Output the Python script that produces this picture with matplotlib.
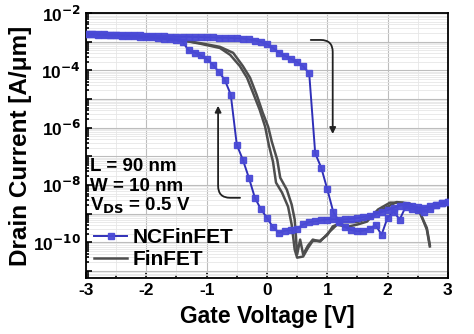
"""Id-Vg hysteresis: NCFinFET vs FinFET."""

import matplotlib

matplotlib.use("Agg")
import matplotlib.pyplot as plt
import numpy as np
from matplotlib.ticker import FixedLocator, FuncFormatter, LogLocator, MultipleLocator

plt.rcParams["font.family"] = ["Liberation Sans", "DejaVu Sans"]
plt.rcParams["font.weight"] = "bold"
plt.rcParams["mathtext.default"] = "bf"

# NCFinFET, sampled every 0.1 V from -3 to 3 (log10 of current)
nc_vg = [round(-3.0 + 0.1 * i, 1) for i in range(61)]
nc_fwd_log = [
    -2.73, -2.73, -2.74, -2.74, -2.75, -2.75, -2.76, -2.77, -2.78, -2.78,
    -2.79, -2.80, -2.80, -2.81, -2.82, -2.82, -2.83, -2.83, -2.84, -2.84,
    -2.85, -2.85, -2.86, -2.86, -2.87, -2.88, -2.89, -2.92, -2.96, -3.01,
    -3.08, -3.22, -3.38, -3.50, -3.60, -3.71, -3.86, -4.10, -6.90, -7.40,
    -8.15, -8.95, -9.28, -9.48, -9.58, -9.62, -9.60, -9.53, -9.40, -9.74,
    -9.14, -8.93, -9.21, -8.76, -8.83, -8.86, -8.93, -8.83, -8.70, -8.63,
    -8.58,
]
nc_rev_log = [
    -2.73, -2.74, -2.75, -2.76, -2.77, -2.78, -2.79, -2.80, -2.81, -2.82,
    -2.83, -2.85, -2.87, -2.89, -2.92, -2.95, -3.00, -3.30, -3.38, -3.48,
    -3.60, -3.80, -4.05, -4.33, -4.85, -6.60, -7.12, -7.75, -8.45, -8.85,
    -9.15, -9.48, -9.67, -9.60, -9.58, -9.53, -9.38, -9.30, -9.27, -9.24,
    -9.21, -9.20, -9.21, -9.20, -9.18, -9.16, -9.12, -9.08, -9.02, -8.95,
    -8.88, -8.80, -8.72, -8.70, -8.72, -8.78, -8.80, -8.75, -8.70, -8.64,
    -8.58,
]

# FinFET, two sweeps (log10 of current)
fin_fwd_vg = [-3.0, -1.94, -1.33, -1.11, -0.78, -0.56, -0.40, -0.28, -0.17, -0.07,
              0.02, 0.08, 0.17, 0.22, 0.33, 0.41, 0.46, 0.50, 0.55, 0.60,
              0.68, 0.76, 0.88, 1.04, 1.16, 1.33, 1.49, 1.66, 1.84, 2.04,
              2.25, 2.42, 2.54, 2.65, 2.70]
fin_fwd_log = [-2.73, -2.84, -2.98, -3.05, -3.18, -3.39, -3.85, -4.26, -4.86, -5.48,
               -5.97, -6.49, -7.12, -7.75, -8.17, -8.69, -9.21, -10.43, -9.91, -10.43,
               -10.12, -9.91, -9.98, -9.63, -9.39, -9.46, -9.39, -9.28, -8.86, -8.62,
               -8.62, -8.76, -8.97, -9.56, -10.15]
fin_rev_vg = [-3.0, -1.94, -1.33, -1.11, -0.78, -0.61, -0.45, -0.33, -0.23, -0.12,
              -0.03, 0.03, 0.10, 0.15, 0.25, 0.35, 0.41, 0.46, 0.50, 0.60,
              0.68, 0.76, 0.88, 1.00, 1.09, 1.26, 1.49, 1.71, 1.92, 2.15,
              2.37, 2.54, 2.65, 2.70]
fin_rev_log = [-2.73, -2.84, -2.98, -3.07, -3.22, -3.46, -3.85, -4.26, -4.79, -5.38,
               -5.97, -6.60, -7.19, -7.92, -8.27, -8.76, -9.39, -10.26, -10.54, -10.50,
               -10.20, -9.95, -9.95, -9.75, -9.45, -9.30, -9.30, -9.15, -8.85, -8.60,
               -8.65, -9.00, -9.50, -10.10]

annotations = ["L = 90 nm", "W = 10 nm", "V$_{\\mathbf{DS}}$ = 0.5 V"]

fig = plt.figure(figsize=(4.74, 3.34), dpi=100)
ax = fig.add_axes([0.1814, 0.1677, 0.7636, 0.7933])

blue = "#2424b4"
gray = "#4e4e4e"

ax.plot(fin_fwd_vg, np.power(10.0, fin_fwd_log), color=gray, lw=1.8, zorder=3)
ax.plot(fin_rev_vg, np.power(10.0, fin_rev_log), color=gray, lw=1.8, zorder=3,
        label="FinFET")
ax.plot(nc_vg, np.power(10.0, nc_fwd_log), color=blue, lw=1.4, marker="s", ms=4.2,
        mfc="#4a4ad6", mec="#4a4ad6", alpha=0.95, zorder=4, label="NCFinFET")
ax.plot(nc_vg, np.power(10.0, nc_rev_log), color=blue, lw=1.4, marker="s", ms=4.2,
        mfc="#4a4ad6", mec="#4a4ad6", alpha=0.95, zorder=4)

ax.set_yscale("log")
ax.set_xlim(-3, 3)
ax.set_ylim(10 ** -11.25, 1e-2)

ax.xaxis.set_major_locator(MultipleLocator(1))
ax.xaxis.set_minor_locator(MultipleLocator(0.5))
ax.yaxis.set_major_locator(FixedLocator([10.0 ** k for k in range(-11, -1)]))
ax.yaxis.set_minor_locator(LogLocator(base=10, subs=np.arange(2, 10), numticks=20))
ax.yaxis.set_major_formatter(FuncFormatter(
    lambda v, _: f"10$^{{{int(round(np.log10(v)))}}}$" if int(round(np.log10(v))) % 2 == 0 else ""))
ax.xaxis.set_major_formatter(FuncFormatter(lambda v, _: f"{int(v)}"))

ax.grid(True, which="major", color="#bdbdbd", lw=0.8)
ax.grid(True, which="minor", color="#e6e6e6", lw=0.6)
ax.set_axisbelow(True)
ax.tick_params(which="both", direction="in", labelsize=12.5, width=1.2)
ax.tick_params(which="major", length=4)
ax.tick_params(which="minor", length=2.5)
for spine in ax.spines.values():
    spine.set_linewidth(1.3)
for lbl in ax.get_xticklabels() + ax.get_yticklabels():
    lbl.set_fontweight("bold")

ax.set_xlabel("Gate Voltage [V]", fontsize=16.5, fontweight="bold", labelpad=5)
ax.set_ylabel("Drain Current [A/\u03bcm]", fontsize=17.5, fontweight="bold", labelpad=1)

for i, txt in enumerate(annotations):
    ax.text(0.012, 0.42 - i * 0.073, txt, transform=ax.transAxes, fontsize=13.5,
            fontweight="bold", va="center", ha="left")

ax.annotate("", xy=(1.09, 10 ** -6.32), xytext=(0.68, 10 ** -2.94),
            arrowprops=dict(arrowstyle="-|>", color="#222222", lw=1.3, mutation_scale=9,
                            connectionstyle="angle,angleA=0,angleB=90,rad=12"))
ax.annotate("", xy=(-0.81, 10 ** -5.14), xytext=(-0.40, 10 ** -8.45),
            arrowprops=dict(arrowstyle="-|>", color="#222222", lw=1.3, mutation_scale=9,
                            connectionstyle="angle,angleA=180,angleB=-90,rad=12"))

handles, labels = ax.get_legend_handles_labels()
ax.legend(handles[::-1], labels[::-1], loc="lower left", bbox_to_anchor=(-0.012, -0.015),
          frameon=False, prop={"weight": "bold", "size": 15},
          handlelength=1.6, handletextpad=0.25, labelspacing=0.15, borderaxespad=0.2)

fig.savefig("out.png", dpi=100)
